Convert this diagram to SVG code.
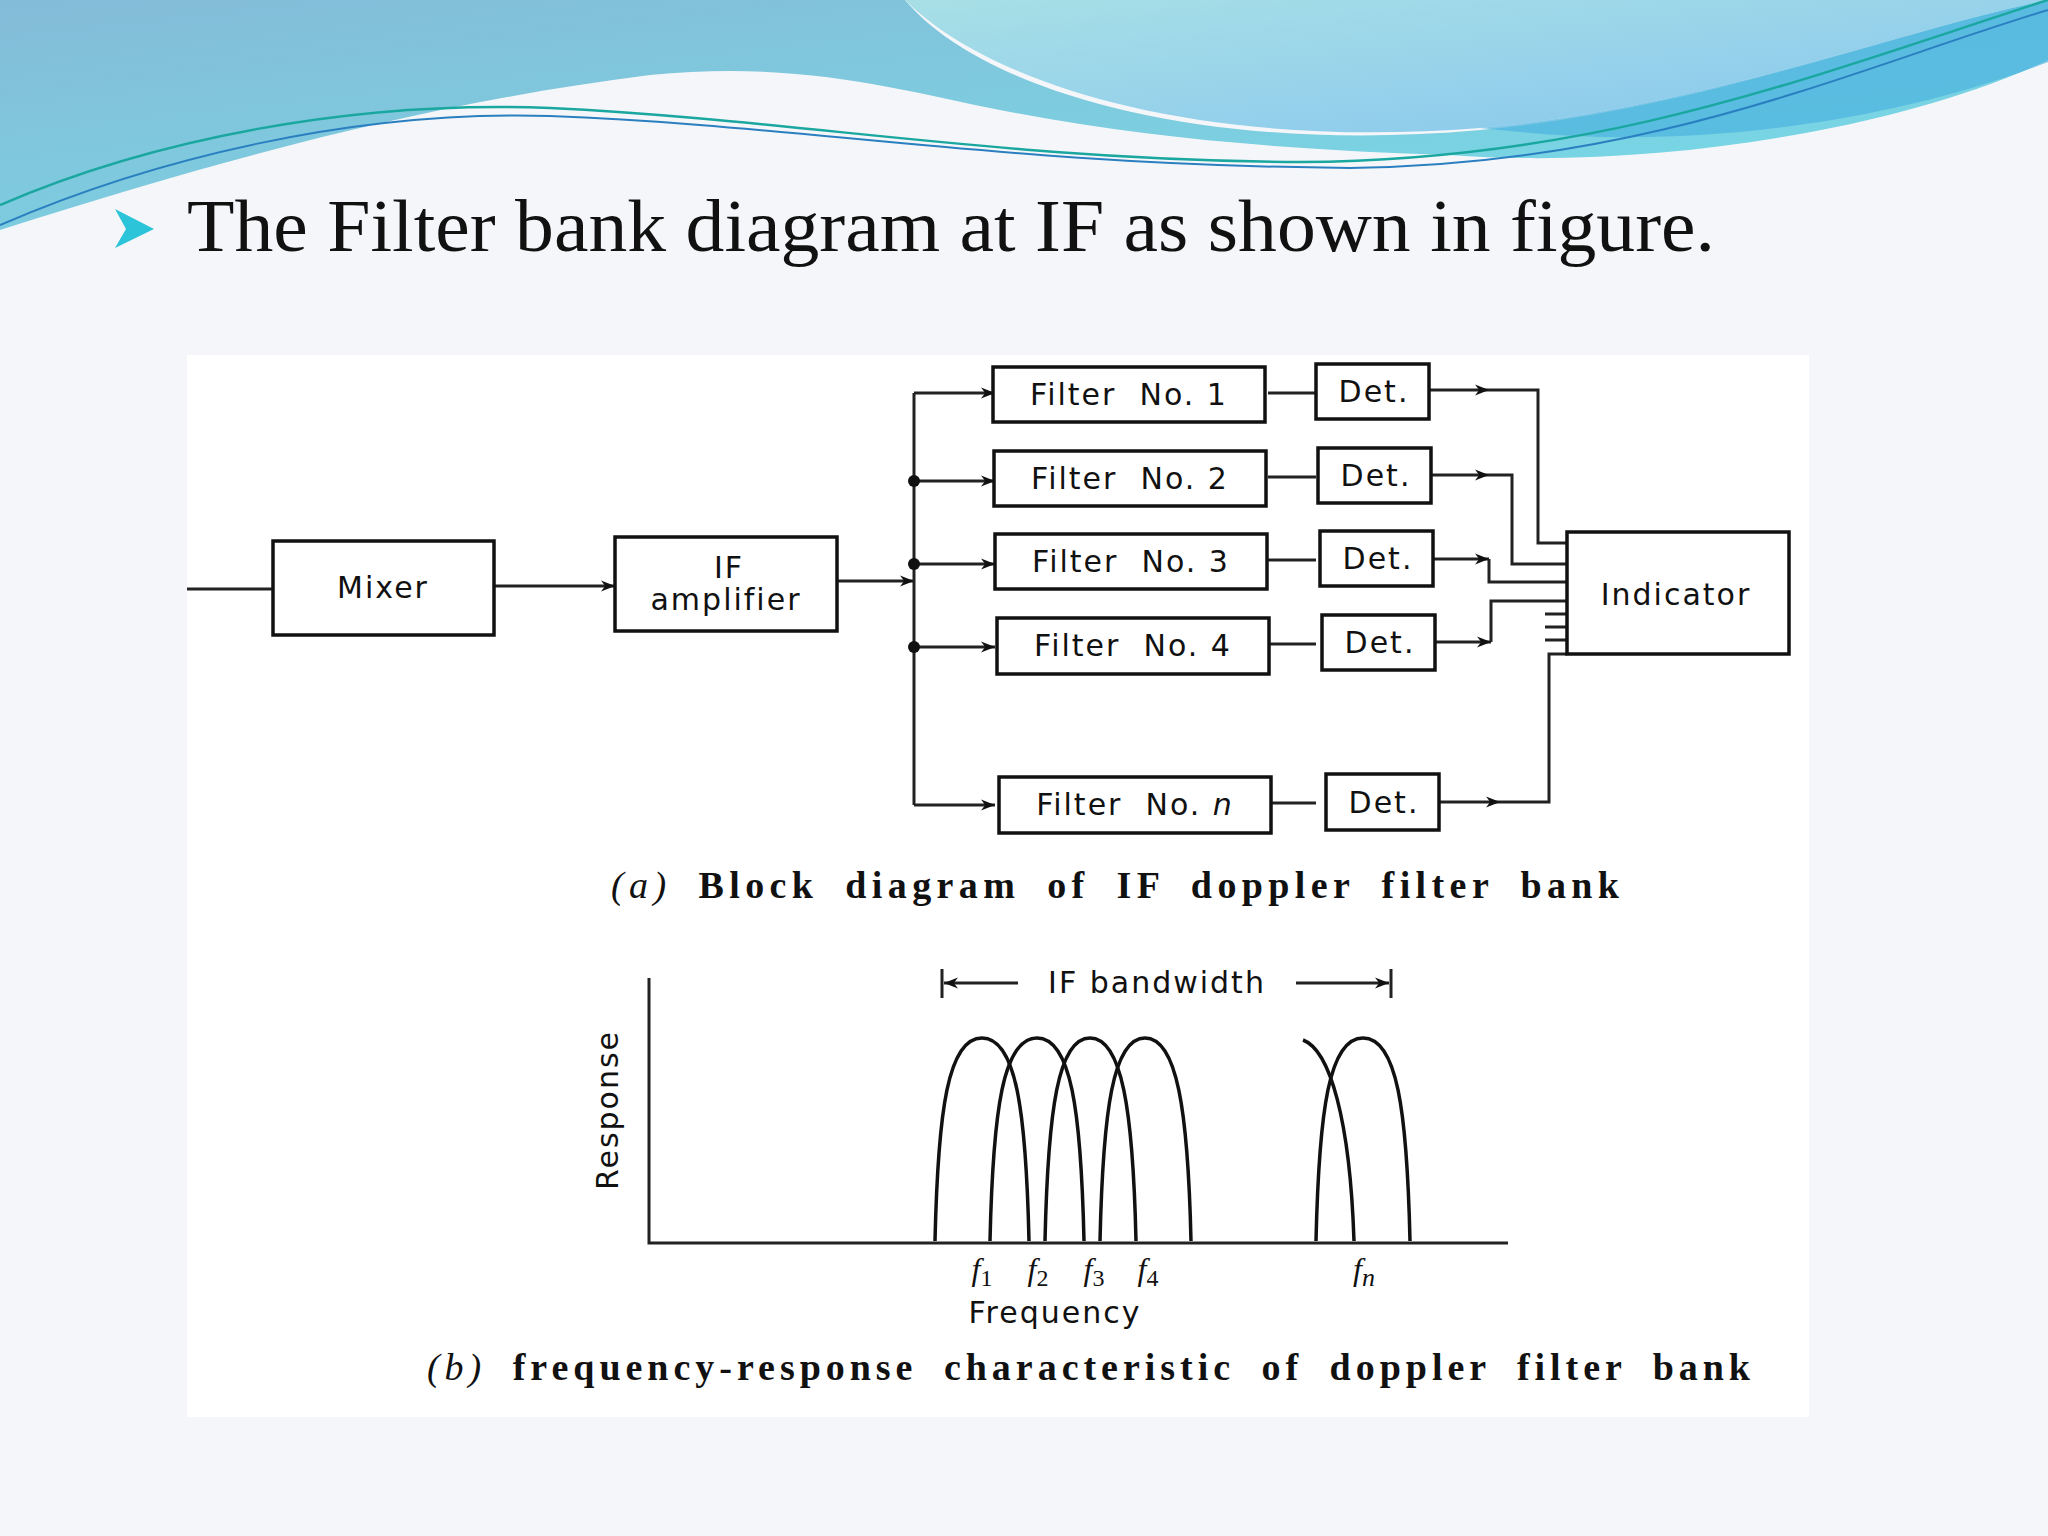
<svg xmlns="http://www.w3.org/2000/svg" width="2048" height="1536" viewBox="0 0 2048 1536">
<defs>
<linearGradient id="g1" x1="0" y1="0" x2="1" y2="1"><stop offset="0" stop-color="#84bcd8"/><stop offset="0.6" stop-color="#7ccfe0"/><stop offset="1" stop-color="#6fe0ec"/></linearGradient>
<linearGradient id="g2" x1="0" y1="0" x2="1" y2="1"><stop offset="0" stop-color="#a8dfe6"/><stop offset="1" stop-color="#86c6ee"/></linearGradient>
<marker id="ah" viewBox="0 0 10 10" refX="10" refY="5" markerWidth="14" markerHeight="14" markerUnits="userSpaceOnUse" orient="auto"><path d="M0,1 L10,5 L0,9 L3,5 Z" fill="#111"/></marker>
<style>
.b{fill:#fff;stroke:#111;stroke-width:3.5}
.l{fill:none;stroke:#222;stroke-width:3}
.t{font-family:"DejaVu Sans",sans-serif;font-size:30px;fill:#111;text-anchor:middle;letter-spacing:2px}
.c{font-family:"Liberation Serif",serif;font-size:38px;font-weight:bold;fill:#111;word-spacing:12px}
.f{font-family:"Liberation Serif",serif;font-style:italic;font-size:32px;fill:#111;text-anchor:middle}
.cv{fill:none;stroke:#111;stroke-width:3.5}
</style>
</defs>
<rect width="2048" height="1536" fill="#f5f6f9"/>
<g id="background">
<path d="M0,0 H905 C980,90 1200,155 1480,130 C1700,110 1900,30 2048,0 V60 C1900,130 1650,170 1450,155 C1300,150 1150,140 1000,110 C900,90 800,60 650,75 C450,100 250,150 0,230 Z" fill="url(#g1)"/>
<path d="M905,0 C990,85 1200,150 1480,128 C1700,108 1900,30 2048,0 H905 Z" fill="url(#g2)"/>
<path d="M1480,128 C1700,108 1900,30 2048,0 V62 C1900,120 1700,150 1520,132 Z" fill="#4cb4e0" opacity="0.7"/>
<path d="M0,205 C150,140 350,100 550,108 C800,120 1000,160 1300,162 C1600,160 1800,80 2048,0" fill="none" stroke="#1aa7a0" stroke-width="2.5"/>
<path d="M0,225 C150,160 350,110 550,116 C800,125 1000,165 1350,168 C1650,165 1850,70 2048,10" fill="none" stroke="#2a7fc0" stroke-width="2"/>
</g>
<g id="title">
<path d="M115,209 L154,229 L115,248 L126,229 Z" fill="#2bc4d8"/>
<text x="187" y="251" font-family="Liberation Serif,serif" font-size="74" fill="#111" textLength="1528" lengthAdjust="spacingAndGlyphs">The Filter bank diagram at IF as shown in figure.</text>
</g>
<rect x="187" y="355" width="1622" height="1062" fill="#fff"/>
<g id="connectors">
<path class="l" d="M187,589 H273"/>
<path class="l" d="M494,586 H615" marker-end="url(#ah)"/>
<path class="l" d="M837,581 H914" marker-end="url(#ah)"/>
<path class="l" d="M914,393 V805"/>
<path class="l" d="M914,393 H995" marker-end="url(#ah)"/>
<path class="l" d="M914,481 H995" marker-end="url(#ah)"/>
<path class="l" d="M914,564 H995" marker-end="url(#ah)"/>
<path class="l" d="M914,647 H995" marker-end="url(#ah)"/>
<path class="l" d="M914,805 H995" marker-end="url(#ah)"/>
<circle cx="914" cy="481" r="6" fill="#111"/>
<circle cx="914" cy="564" r="6" fill="#111"/>
<circle cx="914" cy="647" r="6" fill="#111"/>
<path class="l" d="M1268,393 H1316 M1268,477 H1316 M1268,560 H1316 M1268,644 H1316 M1268,803 H1316"/>
<path class="l" d="M1429,390 H1489" marker-end="url(#ah)"/>
<path class="l" d="M1489,390 H1538 V543 H1567"/>
<path class="l" d="M1429,475 H1489" marker-end="url(#ah)"/>
<path class="l" d="M1489,475 H1512 V564 H1567"/>
<path class="l" d="M1429,559 H1489" marker-end="url(#ah)"/>
<path class="l" d="M1489,559 V582 H1567"/>
<path class="l" d="M1429,642 H1491" marker-end="url(#ah)"/>
<path class="l" d="M1491,642 V601 H1567"/>
<path class="l" d="M1545,614 H1567 M1545,627 H1567 M1545,640 H1567"/>
<path class="l" d="M1429,802 H1500" marker-end="url(#ah)"/>
<path class="l" d="M1500,802 H1549 V654 H1567"/>
</g>
<g id="mixer"><rect class="b" x="273" y="541" width="221" height="94"/><text class="t" x="383" y="598">Mixer</text></g>
<g id="ifamp"><rect class="b" x="615" y="537" width="222" height="94"/><text class="t" x="729" y="578">IF</text><text class="t" x="726" y="610">amplifier</text></g>
<g id="filter1"><rect class="b" x="993" y="367" width="272" height="55"/><text class="t" x="1129" y="405" xml:space="preserve">Filter  No. 1</text></g>
<g id="filter2"><rect class="b" x="994" y="451" width="272" height="55"/><text class="t" x="1130" y="489" xml:space="preserve">Filter  No. 2</text></g>
<g id="filter3"><rect class="b" x="995" y="534" width="272" height="55"/><text class="t" x="1131" y="572" xml:space="preserve">Filter  No. 3</text></g>
<g id="filter4"><rect class="b" x="997" y="618" width="272" height="56"/><text class="t" x="1133" y="656" xml:space="preserve">Filter  No. 4</text></g>
<g id="filtern"><rect class="b" x="999" y="777" width="272" height="56"/><text class="t" x="1135" y="815" xml:space="preserve">Filter  No. <tspan font-style="italic">n</tspan></text></g>
<g id="det1"><rect class="b" x="1316" y="364" width="113" height="55"/><text class="t" x="1374" y="402">Det.</text></g>
<g id="det2"><rect class="b" x="1318" y="448" width="113" height="55"/><text class="t" x="1376" y="486">Det.</text></g>
<g id="det3"><rect class="b" x="1320" y="531" width="113" height="55"/><text class="t" x="1378" y="569">Det.</text></g>
<g id="det4"><rect class="b" x="1322" y="615" width="113" height="55"/><text class="t" x="1380" y="653">Det.</text></g>
<g id="detn"><rect class="b" x="1326" y="774" width="113" height="56"/><text class="t" x="1384" y="813">Det.</text></g>
<g id="indicator"><rect class="b" x="1567" y="532" width="222" height="122"/><text class="t" x="1676" y="605">Indicator</text></g>
<text class="c" x="611" y="898" textLength="1008" lengthAdjust="spacing"><tspan font-style="italic" font-weight="normal">(a)</tspan> Block diagram of IF doppler filter bank</text>
<g id="chart">
<path class="l" d="M649,978 V1243 H1508"/>
<text class="t" font-size="28" transform="translate(618,1110) rotate(-90)" letter-spacing="1">Response</text>
<path class="l" d="M942,969 V998 M1391,969 V998"/>
<path class="l" d="M1018,983 H944" marker-end="url(#ah)"/>
<path class="l" d="M1296,983 H1389" marker-end="url(#ah)"/>
<text class="t" font-size="28" x="1157" y="993">IF bandwidth</text>
<path class="cv" d="M935,1241 C938,1110 948,1038 982,1038 C1016,1038 1026,1110 1029,1241"/>
<path class="cv" d="M990,1241 C993,1110 1003,1038 1037,1038 C1071,1038 1081,1110 1084,1241"/>
<path class="cv" d="M1045,1241 C1048,1110 1058,1038 1090,1038 C1122,1038 1133,1110 1136,1241"/>
<path class="cv" d="M1100,1241 C1103,1110 1113,1038 1145,1038 C1177,1038 1188,1110 1191,1241"/>
<path class="cv" d="M1303,1040 C1330,1050 1350,1120 1354,1241"/>
<path class="cv" d="M1316,1241 C1319,1110 1329,1038 1363,1038 C1397,1038 1407,1110 1410,1241"/>
<text class="f" x="982" y="1280">f<tspan font-style="normal" font-size="24" dy="6">1</tspan></text>
<text class="f" x="1038" y="1280">f<tspan font-style="normal" font-size="24" dy="6">2</tspan></text>
<text class="f" x="1094" y="1280">f<tspan font-style="normal" font-size="24" dy="6">3</tspan></text>
<text class="f" x="1148" y="1280">f<tspan font-style="normal" font-size="24" dy="6">4</tspan></text>
<text class="f" x="1364" y="1280">f<tspan font-size="26" dy="6">n</tspan></text>
<text class="t" font-size="28" x="1055" y="1323">Frequency</text>
</g>
<text class="c" x="427" y="1380" textLength="1323" lengthAdjust="spacing"><tspan font-style="italic" font-weight="normal">(b)</tspan> frequency-response characteristic of doppler filter bank</text>
</svg>
